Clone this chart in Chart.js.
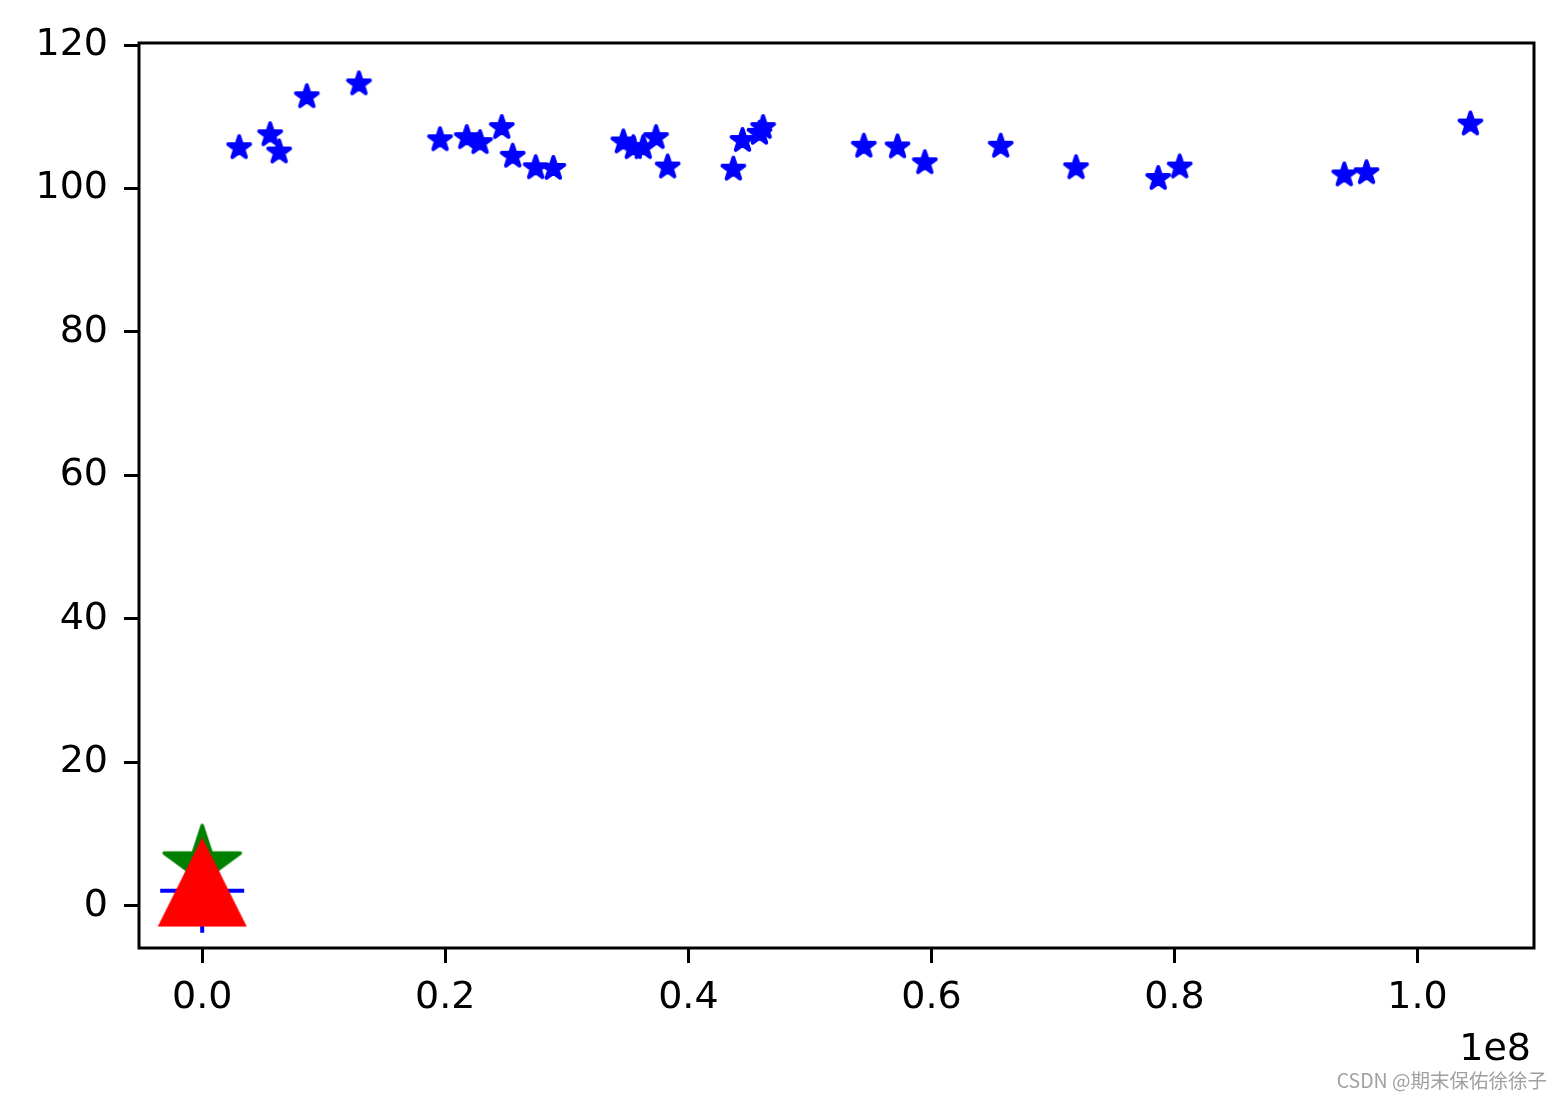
<!DOCTYPE html>
<html>
<head>
<meta charset="UTF-8">
<title>scatter</title>
<script src="https://cdn.jsdelivr.net/npm/chart.js"></script>
<style>
  body { margin: 0; background: #fff; }
  canvas { display: block; }
</style>
</head>
<body>
<canvas id="c" width="1563" height="1101"></canvas>
<script>
// blue data points (x in raw units, axis shows x1e8)
const pointX = [3.04e6, 5.59e6, 6.33e6, 8.61e6, 1.29e7, 1.957e7, 2.177e7, 2.286e7, 2.465e7, 2.555e7,
                2.744e7, 2.889e7, 3.465e7, 3.547e7, 3.629e7, 3.734e7, 3.83e7, 4.37e7, 4.446e7, 4.585e7,
                4.615e7, 5.444e7, 5.721e7, 5.946e7, 6.57e7, 7.19e7, 7.866e7, 8.043e7, 9.397e7, 9.58e7, 1.0435e8];
const pointY = [105.7, 107.5, 105.1, 112.8, 114.6, 106.8, 107.1, 106.4, 108.5, 104.5,
                102.9, 102.8, 106.5, 105.7, 105.7, 107.1, 103.0, 102.7, 106.7, 107.7,
                108.5, 105.9, 105.8, 103.6, 105.9, 102.9, 101.4, 103.0, 101.9, 102.2, 109.0];

// the three big markers in the lower left
const plusPoint = [0, 2.1];
const greenStarPoint = [0, 5.6];
const redTrianglePoint = [0, 3.3];

const xTicks = [0, 2e7, 4e7, 6e7, 8e7, 1e8];
const yTicks = [0, 20, 40, 60, 80, 100, 120];

const FONT = 'DejaVu Sans';

function starImage(r, color, lw) {
    const pad = lw + 2;
    const c = document.createElement('canvas');
    c.width = c.height = Math.ceil(2 * (r + pad));
    const g = c.getContext('2d');
    const cx = c.width / 2, cy = c.height / 2;
    const inner = r * 0.381966;
    g.beginPath();
    for (let i = 0; i < 10; i++) {
        const rr = i % 2 === 0 ? r : inner;
        const a = -Math.PI / 2 + i * Math.PI / 5;
        const px = cx + rr * Math.cos(a), py = cy + rr * Math.sin(a);
        if (i === 0) g.moveTo(px, py); else g.lineTo(px, py);
    }
    g.closePath();
    g.fillStyle = color;
    g.fill();
    g.lineJoin = 'round';
    g.lineWidth = lw;
    g.strokeStyle = color;
    g.stroke();
    return c;
}

function triangleImage(h, color) {
    const c = document.createElement('canvas');
    c.width = c.height = Math.ceil(2 * h + 2);
    const g = c.getContext('2d');
    const cx = c.width / 2, cy = c.height / 2;
    g.beginPath();
    g.moveTo(cx, cy - h);
    g.lineTo(cx - h, cy + h);
    g.lineTo(cx + h, cy + h);
    g.closePath();
    g.fillStyle = color;
    g.fill();
    return c;
}

const smallStar = starImage(11.6, '#0000ff', 3.8);
const bigStar = starImage(40, '#008000', 3.6);
const redTri = triangleImage(44.5, '#ff0000');

const framePlugin = {
    id: 'frame',
    afterDraw(chart) {
        const { ctx, chartArea: a } = chart;
        ctx.save();
        ctx.strokeStyle = '#000';
        ctx.lineWidth = 3;
        ctx.strokeRect(a.left, a.top, a.right - a.left, a.bottom - a.top);
        ctx.fillStyle = '#000';
        ctx.font = '38px "' + FONT + '"';
        ctx.textAlign = 'right';
        ctx.textBaseline = 'alphabetic';
        ctx.fillText('1e8', a.right - 3, 1060);
        ctx.fillStyle = '#a0a0a0';
        ctx.font = '19.5px "Noto Sans CJK SC"';
        ctx.fillText('CSDN @期末保佑徐徐子', 1547, 1088);
        ctx.restore();
    }
};

new Chart(document.getElementById('c'), {
    type: 'scatter',
    data: {
        datasets: [
            { data: [{ x: redTrianglePoint[0], y: redTrianglePoint[1] }], pointStyle: redTri, pointRadius: 40, order: 0 },
            { data: [{ x: greenStarPoint[0], y: greenStarPoint[1] }], pointStyle: bigStar, pointRadius: 40, order: 1 },
            { data: [{ x: plusPoint[0], y: plusPoint[1] }], pointStyle: 'cross', pointRadius: 42,
              borderColor: '#0000ff', borderWidth: 4, order: 2 },
            { data: pointX.map((x, i) => ({ x: x, y: pointY[i] })), pointStyle: smallStar, pointRadius: 12, order: 3 }
        ]
    },
    options: {
        responsive: false,
        animation: false,
        devicePixelRatio: 1,
        events: [],
        layout: { autoPadding: false, padding: { top: 43, right: 29, left: 0, bottom: 0 } },
        plugins: { legend: { display: false }, tooltip: { enabled: false } },
        scales: {
            x: {
                type: 'linear',
                min: -5.2e6,
                max: 1.0958e8,
                afterBuildTicks: axis => { axis.ticks = xTicks.map(v => ({ value: v })); },
                afterFit: axis => { axis.height = 153; },
                ticks: {
                    callback: v => (v / 1e8).toFixed(1),
                    color: '#000',
                    font: { family: FONT, size: 38, lineHeight: 1.2 },
                    padding: 12,
                    maxRotation: 0
                },
                grid: { drawOnChartArea: false, tickLength: 15, tickWidth: 3, tickColor: '#000' },
                border: { display: false }
            },
            y: {
                type: 'linear',
                min: -5.9,
                max: 120.3,
                afterBuildTicks: axis => { axis.ticks = yTicks.map(v => ({ value: v })); },
                afterFit: axis => { axis.width = 139; },
                ticks: {
                    color: '#000',
                    font: { family: FONT, size: 38 },
                    padding: 16
                },
                grid: { drawOnChartArea: false, tickLength: 15, tickWidth: 3, tickColor: '#000' },
                border: { display: false }
            }
        }
    },
    plugins: [framePlugin]
});
</script>
</body>
</html>
